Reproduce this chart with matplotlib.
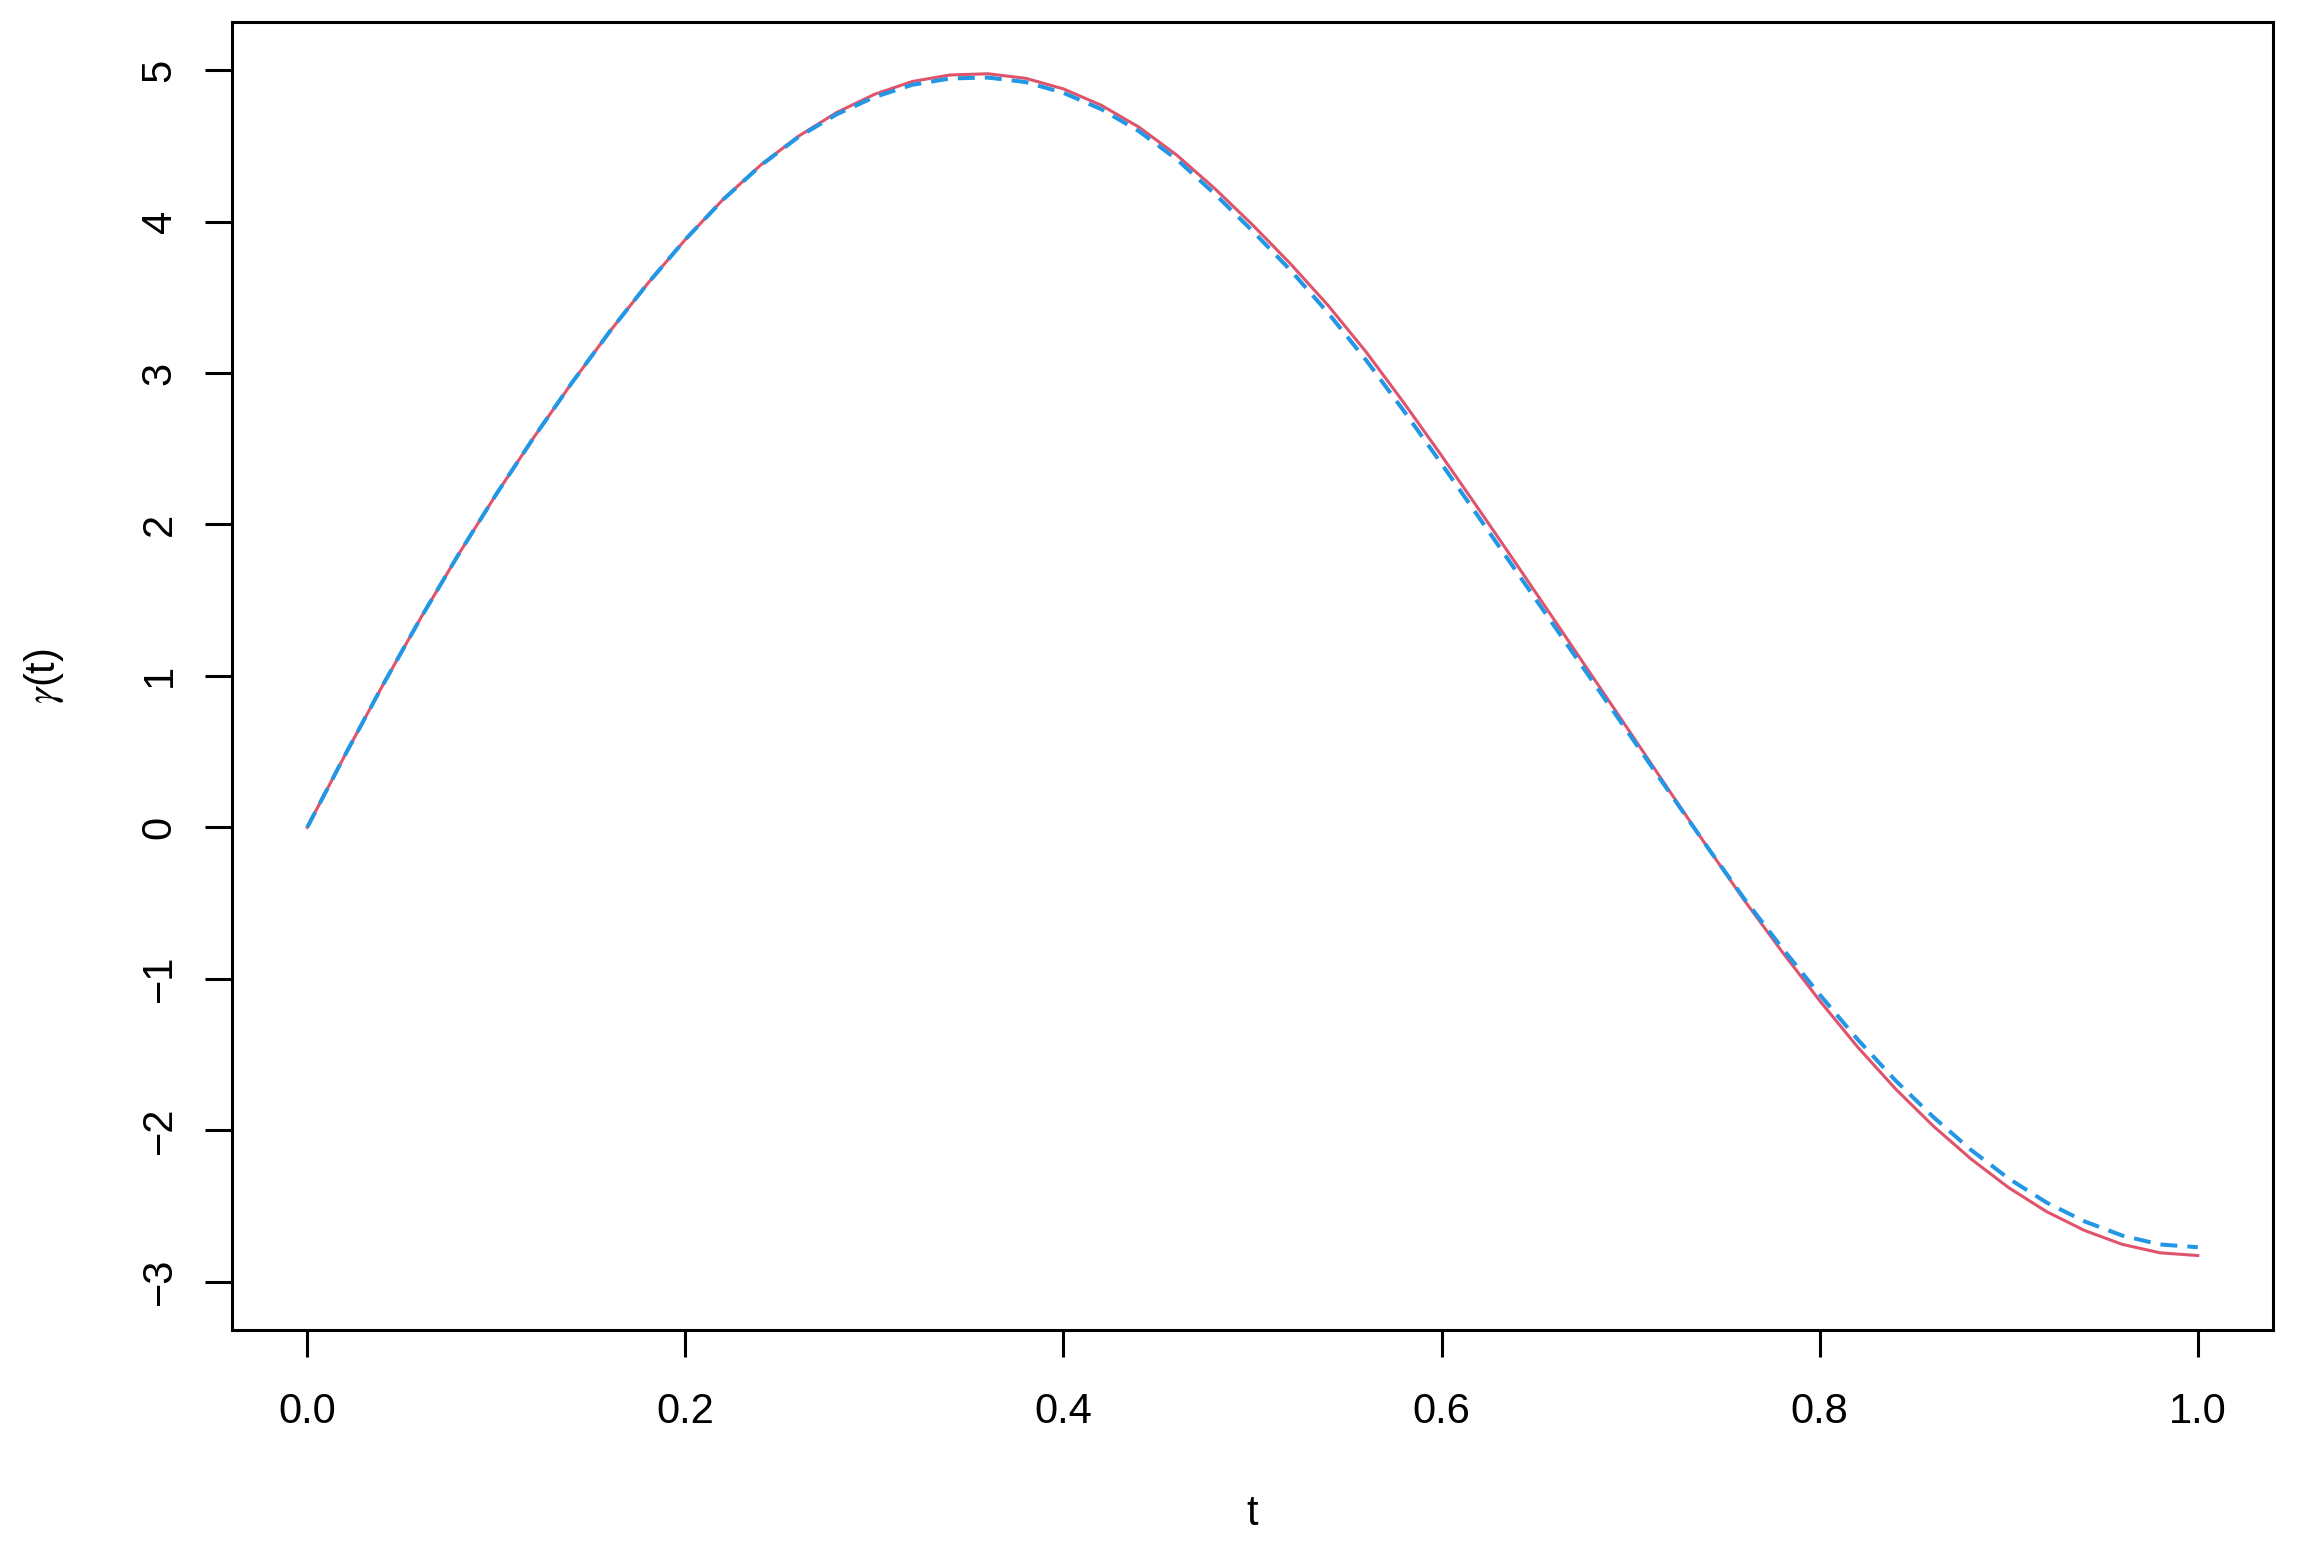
import matplotlib.pyplot as plt
import numpy as np

# -----------------------------
# data
# -----------------------------
t = np.linspace(0, 1, 51)  # step 0.02

gamma_true = [
    0.000, 0.478, 0.940, 1.382, 1.802, 2.200, 2.578, 2.936, 3.274, 3.590,
    3.882, 4.147, 4.375, 4.565, 4.720, 4.840, 4.925, 4.968, 4.976, 4.946,
    4.876, 4.768, 4.623, 4.438, 4.218, 3.978, 3.722, 3.446, 3.140, 2.804,
    2.454, 2.094, 1.730, 1.362, 0.992, 0.622, 0.250, -0.120, -0.480, -0.820,
    -1.145, -1.450, -1.726, -1.972, -2.190, -2.380, -2.538, -2.662, -2.754, -2.810,
    -2.828,
]
gamma_est = [
    0.000, 0.478, 0.940, 1.382, 1.802, 2.200, 2.578, 2.936, 3.274, 3.590,
    3.882, 4.145, 4.372, 4.560, 4.708, 4.822, 4.903, 4.945, 4.951, 4.921,
    4.850, 4.742, 4.596, 4.410, 4.183, 3.938, 3.680, 3.396, 3.086, 2.750,
    2.400, 2.042, 1.682, 1.322, 0.962, 0.602, 0.240, -0.120, -0.470, -0.795,
    -1.105, -1.400, -1.671, -1.912, -2.130, -2.320, -2.478, -2.602, -2.696, -2.755,
    -2.773,
]

xticks = [0.0, 0.2, 0.4, 0.6, 0.8, 1.0]
xticklabels = ["0.0", "0.2", "0.4", "0.6", "0.8", "1.0"]
yticks = [-3, -2, -1, 0, 1, 2, 3, 4, 5]

# -----------------------------
# style
# -----------------------------
plt.rcParams["font.family"] = ["Liberation Sans", "DejaVu Sans"]
plt.rcParams["mathtext.fontset"] = "stix"
red = "#DF536B"
blue = "#2297E6"

fig = plt.figure(figsize=(11.525, 7.74), dpi=200)
ax = fig.add_axes([0.1005, 0.1408, 0.8858, 0.8452])

ax.plot(t, gamma_true, color=red, lw=1.1, zorder=2)
ax.plot(t, gamma_est, color=blue, lw=1.45, linestyle=(0, (4.2, 2.5)), zorder=3)

ax.set_xlim(-0.04, 1.04)
ax.set_ylim(-3.32, 5.32)
ax.set_xticks(xticks)
ax.set_xticklabels(xticklabels)
ax.set_yticks(yticks)
ax.set_yticklabels([str(v).replace("-", "\u2212") for v in yticks],
                   rotation=90, va="center")

for s in ax.spines.values():
    s.set_linewidth(1.1)
ax.tick_params(axis="both", length=9.7, width=1.1, labelsize=15)
ax.tick_params(axis="x", pad=12.5)
ax.tick_params(axis="y", pad=9)

ax.set_xlabel("t", fontsize=15)
ax.set_ylabel(r"$\gamma$(t)", fontsize=15)
ax.xaxis.set_label_coords(0.5, -0.125)
ax.yaxis.set_label_coords(-0.081, 0.5)

fig.savefig("out.png", dpi=200)
